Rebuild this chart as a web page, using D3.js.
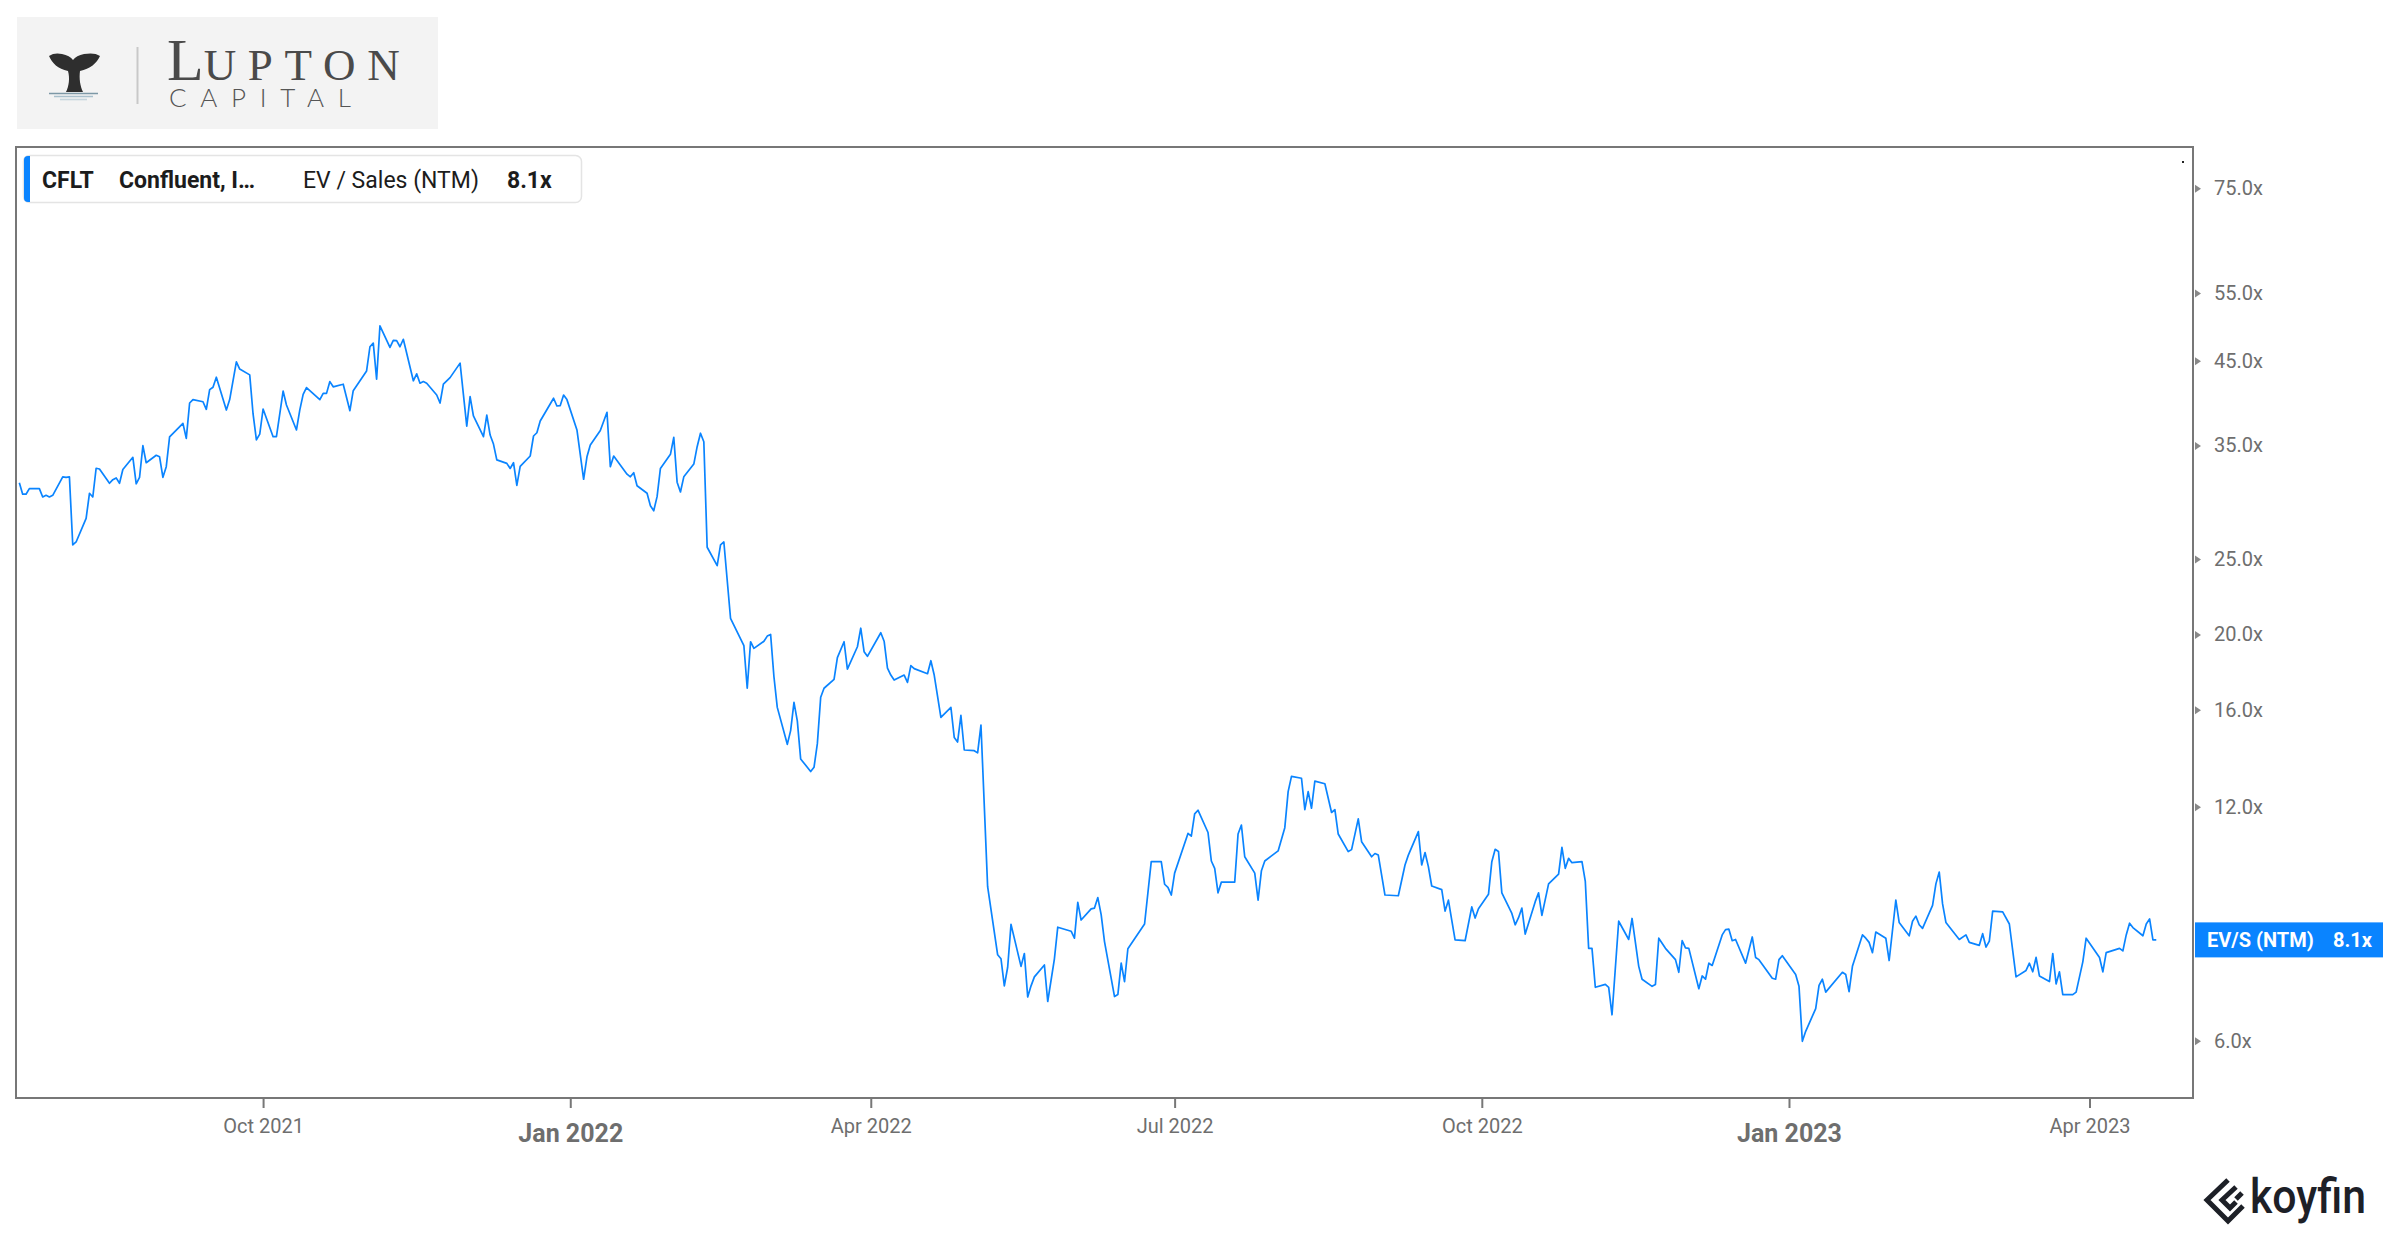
<!DOCTYPE html>
<html>
<head>
  <meta charset="utf-8">
  <title>CFLT EV / Sales (NTM)</title>
  <script src="https://cdn.jsdelivr.net/npm/d3@7"></script>
  <style>
    body { margin: 0; background: #fff; }
    text { font-family: Roboto, "Open Sans", sans-serif; }
  </style>
</head>
<body>
<script>
  // data: trading day offsets from startDate, EV / Sales (NTM) multiple
  var startDate = "2021-07-20";
  var dayIndex = [
    0, 1, 2, 3, 6, 7, 8, 9, 10, 13,
    14, 15, 16, 17, 20, 21, 22, 23, 24, 27,
    28, 29, 30, 31, 34, 35, 36, 37, 38, 41,
    42, 43, 44, 45, 49, 50, 51, 52, 55, 56,
    57, 58, 59, 62, 63, 65, 66, 69, 70, 71,
    72, 73, 76, 77, 79, 80, 83, 84, 85, 86,
    90, 91, 92, 93, 94, 97, 99, 100, 104, 105,
    106, 107, 108, 111, 112, 113, 114, 115, 118, 119,
    120, 121, 122, 125, 126, 127, 129, 132, 134, 135,
    136, 139, 140, 141, 142, 143, 146, 147, 148, 149,
    150, 153, 154, 155, 156, 160, 161, 162, 163, 164,
    167, 169, 170, 171, 174, 176, 177, 178, 182, 183,
    184, 185, 188, 189, 190, 191, 192, 195, 196, 197,
    198, 199, 202, 203, 204, 205, 206, 209, 210, 211,
    213, 217, 218, 219, 220, 223, 224, 225, 226, 227,
    230, 231, 232, 233, 234, 237, 238, 239, 240, 241,
    244, 245, 247, 248, 251, 252, 253, 254, 258, 259,
    260, 261, 262, 265, 266, 267, 268, 272, 273, 274,
    276, 279, 280, 281, 282, 283, 286, 287, 288, 290,
    293, 294, 295, 296, 297, 300, 301, 302, 303, 304,
    307, 308, 310, 311, 315, 316, 317, 318, 321, 322,
    323, 324, 325, 328, 329, 330, 331, 332, 337, 339,
    342, 343, 344, 345, 346, 350, 351, 352, 353, 356,
    357, 358, 359, 360, 364, 365, 366, 367, 370, 371,
    372, 373, 377, 379, 380, 381, 384, 385, 386, 387,
    388, 391, 393, 394, 395, 398, 399, 401, 402, 405,
    406, 407, 409, 413, 415, 416, 419, 420, 421, 422,
    423, 426, 427, 428, 429, 430, 433, 435, 436, 437,
    440, 441, 442, 443, 444, 447, 448, 449, 450, 451,
    454, 455, 456, 458, 461, 462, 463, 464, 465, 468,
    469, 470, 471, 472, 475, 476, 477, 479, 482, 483,
    485, 486, 489, 490, 491, 493, 496, 497, 498, 499,
    500, 503, 504, 505, 506, 507, 510, 511, 512, 513,
    514, 517, 519, 520, 521, 525, 526, 527, 528, 532,
    533, 534, 535, 538, 539, 540, 541, 546, 547, 548,
    549, 552, 553, 554, 555, 556, 559, 560, 562, 563,
    566, 567, 568, 569, 570, 573, 574, 575, 576, 577,
    581, 583, 584, 587, 588, 589, 590, 591, 594, 596,
    598, 601, 602, 603, 604, 605, 608, 609, 610, 611,
    612, 615, 616, 618, 619, 623, 624, 625, 629, 630,
    631, 632, 633, 636, 637, 638, 639, 640
  ];
  var evSales = [
    31.35, 30.3, 30.3, 30.8, 30.8, 30.05, 30.2, 30.05, 30.2, 31.9,
    31.85, 31.9, 26.07, 26.3, 28.2, 30.38, 30.05, 32.72, 32.65, 31.3,
    31.63, 31.8, 31.3, 32.6, 33.8, 31.25, 31.85, 34.98, 33.26, 34.0,
    33.85, 31.85, 32.87, 35.9, 37.38, 35.75, 39.7, 40.1, 39.85, 38.96,
    41.3, 41.6, 42.85, 38.88, 40.1, 44.85, 43.9, 43.15, 38.43, 35.6,
    36.2, 39.0, 35.93, 35.93, 41.13, 39.46, 36.65, 38.9, 40.73, 41.55,
    40.1, 40.85, 40.85, 42.3, 41.65, 41.97, 38.8, 41.17, 43.65, 46.9,
    47.4, 42.6, 49.9, 46.8, 47.8, 47.75, 46.9, 47.95, 42.4, 43.28,
    42.1, 42.3, 42.1, 40.65, 39.7, 41.98, 42.8, 44.68, 37.08, 40.45,
    38.2, 35.93, 38.3, 36.1, 35.15, 33.54, 33.2, 32.7, 33.26, 31.1,
    32.9, 33.93, 36.0, 36.35, 37.64, 40.26, 39.35, 39.4, 40.65, 40.1,
    36.65, 31.67, 33.85, 35.05, 36.6, 38.62, 32.87, 33.93, 32.15, 31.9,
    32.29, 31.07, 30.38, 29.28, 28.85, 30.08, 32.7, 34.1, 35.85, 31.4,
    30.5, 31.9, 33.13, 34.88, 36.3, 35.4, 25.89, 24.52, 26.07, 26.3,
    20.98, 19.34, 17.05, 19.57, 19.19, 19.6, 19.9, 20.0, 17.64, 16.11,
    14.44, 15.04, 16.35, 15.48, 13.83, 13.32, 13.49, 14.47, 16.6, 17.05,
    17.5, 18.67, 19.57, 18.04, 19.28, 20.37, 19.0, 18.74, 20.1, 19.6,
    18.1, 17.73, 17.47, 17.73, 17.35, 18.23, 18.07, 17.8, 18.5, 17.73,
    15.64, 16.11, 14.74, 14.54, 15.73, 14.2, 14.17, 14.08, 15.29, 9.47,
    7.74, 7.65, 7.06, 7.46, 8.47, 7.48, 7.77, 6.83, 7.06, 7.25,
    7.51, 6.74, 7.65, 8.4, 8.3, 8.13, 9.04, 8.58, 8.87, 8.89,
    9.17, 8.72, 8.05, 6.84, 6.88, 7.55, 7.15, 7.88, 8.48, 10.2,
    10.2, 9.54, 9.45, 9.24, 9.86, 11.09, 11.0, 11.75, 11.88, 11.12,
    10.22, 10.0, 9.3, 9.6, 9.6, 11.07, 11.37, 10.35, 9.86, 9.1,
    9.93, 10.22, 10.53, 11.28, 12.55, 13.13, 13.06, 11.9, 12.55, 11.95,
    12.95, 12.85, 11.8, 11.9, 11.07, 10.51, 10.57, 11.58, 10.82, 10.35,
    10.45, 10.4, 9.24, 9.22, 10.1, 10.4, 11.15, 10.1, 10.48, 10.05,
    9.49, 9.39, 8.81, 9.1, 8.58, 8.09, 8.07, 8.92, 8.63, 8.87,
    9.26, 10.2, 10.58, 10.51, 9.3, 8.75, 8.46, 8.64, 8.89, 8.23,
    9.06, 9.3, 8.7, 9.55, 9.83, 10.64, 10.0, 10.3, 10.17, 10.2,
    9.62, 7.89, 7.89, 7.03, 7.09, 7.03, 6.48, 8.55, 8.1, 8.62,
    7.48, 7.2, 7.05, 7.09, 8.13, 7.89, 7.63, 7.35, 8.07, 7.9,
    7.89, 7.0, 7.27, 7.2, 7.55, 7.5, 8.21, 8.34, 8.35, 8.07,
    8.1, 7.55, 8.16, 7.68, 7.63, 7.22, 7.2, 7.63, 7.72, 7.3,
    7.05, 5.99, 6.17, 6.6, 7.07, 7.2, 6.93, 7.35, 7.3, 6.94,
    7.48, 8.21, 8.13, 8.03, 7.79, 8.28, 8.13, 7.61, 9.1, 8.52,
    8.19, 8.55, 8.68, 8.46, 8.37, 8.96, 9.55, 9.89, 9.0, 8.52,
    8.1, 8.21, 8.03, 7.96, 8.24, 7.92, 8.06, 8.81, 8.79, 8.48,
    7.25, 7.39, 7.55, 7.36, 7.68, 7.27, 7.15, 7.77, 7.1, 7.36,
    6.88, 6.88, 6.93, 7.58, 8.13, 7.68, 7.36, 7.79, 7.89, 7.83,
    8.21, 8.5, 8.39, 8.19, 8.48, 8.61, 8.09, 8.09
  ];
  var yTicks = [6, 12, 16, 20, 25, 35, 45, 55, 75];
  var xTicks = ["2021-10-01", "2022-01-01", "2022-04-01", "2022-07-01",
                "2022-10-01", "2023-01-01", "2023-04-01"];
  var ticker = "CFLT",
      company = "Confluent, I\u2026",
      metric = "EV / Sales (NTM)",
      metricShort = "EV/S (NTM)";

  var width = 2400,
      height = 1240,
      plotLeft = 16, plotTop = 147, plotRight = 2193, plotBottom = 1098,
      blue = "#0a84ff",
      axisGrey = "#777";

  var parse = d3.timeParse("%Y-%m-%d"),
      firstDay = parse(startDate),
      points = dayIndex.map(function (d, i) {
        return { date: d3.timeDay.offset(firstDay, d), value: evSales[i] };
      });

  var x = d3.scaleTime()
      .domain([parse("2021-07-19"), parse("2023-05-02")])
      .range([plotLeft, plotRight]);

  var y = d3.scaleLog()
      .domain([5.064, 84.76])
      .range([plotBottom, plotTop]);

  var svg = d3.select("body").append("svg")
      .attr("width", width)
      .attr("height", height);

  // Lupton Capital logo
  var logo = svg.append("g");
  logo.append("rect")
      .attr("x", 17).attr("y", 17)
      .attr("width", 421).attr("height", 112)
      .attr("fill", "#f3f3f3");
  logo.append("path")
      .attr("d", "M49,56 C53,53 58,53 62,54 C67,55 71,57 73,60 C75,57 79,55 84,54 " +
                 "C90,53 96,53 100,56 C97,63 90,69 80,71 C79,78 80,86 83,92 L66,92 " +
                 "C69,86 70,78 68,71 C58,69 52,63 49,56 Z")
      .attr("fill", "#2e2e2e");
  [[49, 98, 93.5, "#7d98a6"], [54, 93, 96.5, "#a9c0cc"], [60, 87, 99.5, "#c6d5dd"]]
    .forEach(function (l) {
      logo.append("line")
          .attr("x1", l[0]).attr("x2", l[1])
          .attr("y1", l[2]).attr("y2", l[2])
          .attr("stroke", l[3]).attr("stroke-width", 1.6);
    });
  logo.append("line")
      .attr("x1", 137.5).attr("x2", 137.5)
      .attr("y1", 47).attr("y2", 104)
      .attr("stroke", "#c8c8c8").attr("stroke-width", 2);
  var wordmark = logo.append("text")
      .attr("x", 167).attr("y", 80)
      .style("font-family", "'Liberation Serif', 'DejaVu Serif', serif")
      .attr("fill", "#4a4a4a");
  wordmark.append("tspan")
      .attr("font-size", 60)
      .text("L");
  wordmark.append("tspan")
      .attr("font-size", 45)
      .attr("letter-spacing", 11.7)
      .text("UPTON");
  logo.append("text")
      .attr("x", 169).attr("y", 107)
      .style("font-family", "Lato, 'Liberation Sans', sans-serif")
      .attr("font-weight", 300)
      .attr("font-size", 26)
      .attr("fill", "#555")
      .attr("textLength", 182)
      .attr("lengthAdjust", "spacing")
      .text("CAPITAL");

  // plot frame
  svg.append("rect")
      .attr("x", plotLeft).attr("y", plotTop)
      .attr("width", plotRight - plotLeft).attr("height", plotBottom - plotTop)
      .attr("fill", "none")
      .attr("stroke", axisGrey)
      .attr("stroke-width", 2);

  svg.append("rect")
      .attr("x", 2182).attr("y", 161)
      .attr("width", 2).attr("height", 2)
      .attr("fill", "#222");

  // the series
  svg.append("path")
      .datum(points)
      .attr("fill", "none")
      .attr("stroke", blue)
      .attr("stroke-width", 1.7)
      .attr("stroke-linejoin", "round")
      .attr("d", d3.line()
          .x(function (d) { return x(d.date); })
          .y(function (d) { return y(d.value); }));

  // right axis
  var yAxis = svg.append("g")
      .attr("transform", "translate(" + plotRight + ",0)")
      .call(d3.axisRight(y)
          .tickValues(yTicks)
          .tickSize(0)
          .tickPadding(21)
          .tickFormat(function (d) { return d3.format(".1f")(d) + "x"; }));
  yAxis.select(".domain").remove();
  yAxis.selectAll(".tick text")
      .attr("fill", "#6e6e6e")
      .attr("font-size", 20)
      .style("font-family", "Roboto, sans-serif");
  yAxis.selectAll(".tick").append("path")
      .attr("d", "M2,-4 L8,0 L2,4 Z")
      .attr("fill", "#888");

  // bottom axis
  var isJan = function (d) { return d.getMonth() === 0; };
  var xAxis = svg.append("g")
      .attr("transform", "translate(0," + plotBottom + ")")
      .call(d3.axisBottom(x)
          .tickValues(xTicks.map(parse))
          .tickSize(10)
          .tickFormat(d3.timeFormat("%b %Y")));
  xAxis.select(".domain").remove();
  xAxis.selectAll(".tick line")
      .attr("stroke", axisGrey)
      .attr("stroke-width", 2);
  xAxis.selectAll(".tick text")
      .attr("dy", null)
      .attr("y", function (d) { return isJan(d) ? 44 : 35; })
      .attr("fill", "#6e6e6e")
      .attr("font-size", function (d) { return isJan(d) ? 25 : 20; })
      .attr("font-weight", function (d) { return isJan(d) ? 700 : 400; })
      .style("font-family", "Roboto, sans-serif");

  // legend
  var legend = svg.append("g");
  legend.append("rect")
      .attr("x", 23.5).attr("y", 155.5)
      .attr("width", 558).attr("height", 47)
      .attr("rx", 6)
      .attr("fill", "#fff")
      .attr("stroke", "#e4e4e4")
      .attr("stroke-width", 1.5);
  legend.append("path")
      .attr("d", "M30,156 L30,202 L28,202 Q24,202 24,198 L24,160 Q24,156 28,156 Z")
      .attr("fill", blue);
  [[42, ticker, 700], [119, company, 700], [303, metric, 400], [507, d3.format(".1f")(evSales[evSales.length - 1]) + "x", 700]]
    .forEach(function (t) {
      legend.append("text")
          .attr("x", t[0]).attr("y", 188)
          .attr("font-size", 23)
          .attr("font-weight", t[2])
          .attr("fill", "#1c1c1c")
          .text(t[1]);
    });

  // last value marker on the axis
  var lastPoint = points[points.length - 1],
      ly = y(lastPoint.value);
  svg.append("rect")
      .attr("x", plotRight + 2).attr("y", ly - 17.5)
      .attr("width", 188).attr("height", 35)
      .attr("fill", blue);
  svg.append("text")
      .attr("x", 2207).attr("y", ly + 7)
      .attr("font-size", 20).attr("font-weight", 700)
      .attr("fill", "#fff")
      .text(metricShort);
  svg.append("text")
      .attr("x", 2333).attr("y", ly + 7)
      .attr("font-size", 20).attr("font-weight", 700)
      .attr("fill", "#fff")
      .text(d3.format(".1f")(lastPoint.value) + "x");

  // koyfin mark
  var brand = svg.append("g");
  brand.append("path")
      .attr("d", "M2228,1180 L2207,1200 L2228,1221 L2243,1206 " +
                 "M2236,1187 L2222,1200 L2230,1208 L2236,1202 " +
                 "M2242,1193 L2236,1199")
      .attr("fill", "none")
      .attr("stroke", "#1d2027")
      .attr("stroke-width", 5)
      .attr("stroke-linejoin", "miter");
  brand.append("text")
      .attr("x", 2250).attr("y", 1213)
      .attr("font-size", 49)
      .attr("font-weight", 500)
      .attr("fill", "#1d2027")
      .attr("textLength", 116)
      .attr("lengthAdjust", "spacingAndGlyphs")
      .text("koyfin");
</script>
</body>
</html>
